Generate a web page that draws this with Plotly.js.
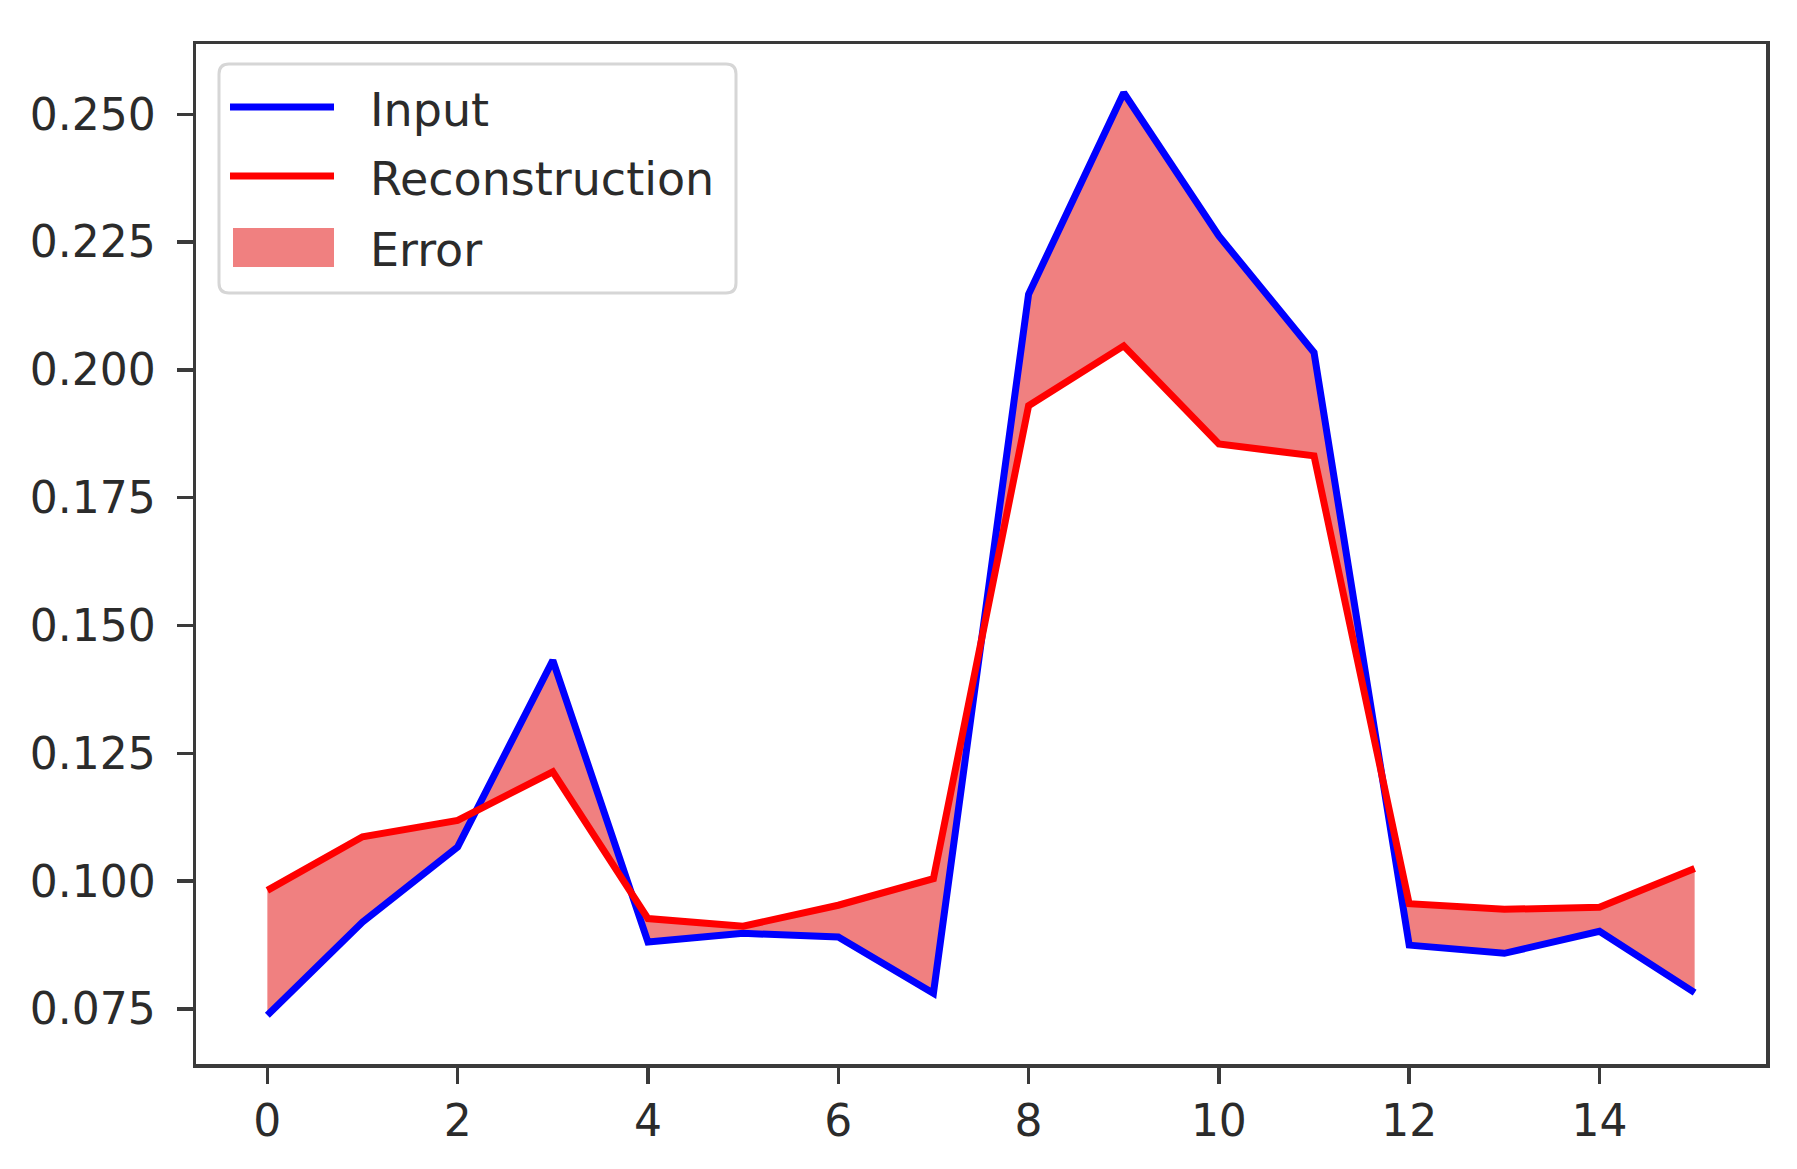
<!DOCTYPE html>
<html>
<head>
<meta charset="utf-8">
<script src="https://cdn.plot.ly/plotly-3.0.1.min.js"></script>
<style>
  html, body { margin: 0; padding: 0; background: #ffffff; }
  #chart { width: 1797px; height: 1169px; }
</style>
</head>
<body>
<div id="chart"></div>
<script>
// ---- data ----
const steps = [0, 1, 2, 3, 4, 5, 6, 7, 8, 9, 10, 11, 12, 13, 14, 15];
const inputValues = [0.0738, 0.0920, 0.1067, 0.1432, 0.0881, 0.0898, 0.0891, 0.0781,
                     0.2148, 0.2542, 0.2262, 0.2034, 0.0875, 0.0859, 0.0902, 0.0782];
const reconstructionValues = [0.0982, 0.1087, 0.1119, 0.1214, 0.0927, 0.0912, 0.0953, 0.1005,
                              0.1930, 0.2047, 0.1855, 0.1832, 0.0956, 0.0945, 0.0949, 0.1025];
const seriesNames = ["Input", "Reconstruction", "Error"];
const seriesColors = ["#0000ff", "#ff0000", "#F08080"];
const xTickValues = [0, 2, 4, 6, 8, 10, 12, 14];
const yTickValues = [0.075, 0.100, 0.125, 0.150, 0.175, 0.200, 0.225, 0.250];

const FONT = "DejaVu Sans, Liberation Sans, sans-serif";
const TEXT = "#2b2b2b";
const AXIS = "#3a3a3a";

const W = 1797, H = 1169;
const M = { l: 196, r: 31, t: 44, b: 105 };
const PW = W - M.l - M.r, PH = H - M.t - M.b;
// pixel -> paper coordinate helpers (for the legend box only)
const px = X => (X - M.l) / PW;
const py = Y => 1 - (Y - M.t) / PH;

const traces = [
  { // lower edge of the error band (hidden)
    x: steps, y: inputValues, type: "scatter", mode: "lines",
    line: { width: 0, color: "rgba(0,0,0,0)" },
    showlegend: false, hoverinfo: "skip"
  },
  { // error band between input and reconstruction
    x: steps, y: reconstructionValues, type: "scatter", mode: "lines",
    fill: "tonexty", fillcolor: seriesColors[2],
    line: { width: 0, color: "rgba(0,0,0,0)" },
    name: seriesNames[2], showlegend: false
  },
  {
    x: steps, y: inputValues, type: "scatter", mode: "lines",
    line: { color: seriesColors[0], width: 7 },
    name: seriesNames[0], showlegend: false
  },
  {
    x: steps, y: reconstructionValues, type: "scatter", mode: "lines",
    line: { color: seriesColors[1], width: 7 },
    name: seriesNames[1], showlegend: false
  }
];

// ---- legend (drawn as a box, handles and labels, like matplotlib's) ----
const box = { x0: 219, x1: 736, y0: 64, y1: 293, r: 10 };
function roundedRectPath(b) {
  const x0 = px(b.x0), x1 = px(b.x1), y0 = py(b.y0), y1 = py(b.y1);
  const rx = b.r / PW, ry = b.r / PH;
  return `M${x0 + rx},${y0} L${x1 - rx},${y0} Q${x1},${y0} ${x1},${y0 - ry} ` +
         `L${x1},${y1 + ry} Q${x1},${y1} ${x1 - rx},${y1} L${x0 + rx},${y1} ` +
         `Q${x0},${y1} ${x0},${y1 + ry} L${x0},${y0 - ry} Q${x0},${y0} ${x0 + rx},${y0} Z`;
}
const itemY = [107, 176, 247];
const handleX0 = 230, handleX1 = 334, labelX = 368;

const shapes = [
  { type: "path", xref: "paper", yref: "paper", path: roundedRectPath(box),
    fillcolor: "rgba(255,255,255,0.8)", line: { color: "#d6d6d6", width: 3 }, layer: "above" },
  { type: "line", xref: "paper", yref: "paper",
    x0: px(handleX0), x1: px(handleX1), y0: py(itemY[0]), y1: py(itemY[0]),
    line: { color: seriesColors[0], width: 7 }, layer: "above" },
  { type: "line", xref: "paper", yref: "paper",
    x0: px(handleX0), x1: px(handleX1), y0: py(itemY[1]), y1: py(itemY[1]),
    line: { color: seriesColors[1], width: 7 }, layer: "above" },
  { type: "rect", xref: "paper", yref: "paper",
    x0: px(handleX0 + 3), x1: px(handleX1), y0: py(itemY[2] - 19), y1: py(itemY[2] + 20),
    fillcolor: seriesColors[2], line: { width: 0 }, layer: "above" }
];

const annotations = seriesNames.map((name, i) => ({
  xref: "paper", yref: "paper", x: px(labelX), y: py(itemY[i] + 3),
  xanchor: "left", yanchor: "middle", showarrow: false, text: name,
  font: { family: FONT, size: 46, color: TEXT }
}));

const layout = {
  width: W, height: H,
  margin: { l: M.l, r: M.r, t: M.t, b: M.b, pad: 0 },
  paper_bgcolor: "#ffffff", plot_bgcolor: "#ffffff",
  font: { family: FONT, size: 44, color: TEXT },
  showlegend: false,
  shapes: shapes,
  annotations: annotations,
  xaxis: {
    range: [-0.75, 15.75], tickmode: "array", tickvals: xTickValues,
    ticktext: xTickValues.map(String),
    showgrid: false, zeroline: false,
    showline: true, linecolor: AXIS, linewidth: 3.5, mirror: true,
    ticks: "outside", ticklen: 16, tickwidth: 3.5, tickcolor: AXIS,
    ticklabelstandoff: 0,
    tickfont: { family: FONT, size: 44, color: TEXT }
  },
  yaxis: {
    range: [0.06425, 0.26374], tickmode: "array", tickvals: yTickValues,
    ticktext: yTickValues.map(v => v.toFixed(3)),
    showgrid: false, zeroline: false,
    showline: true, linecolor: AXIS, linewidth: 3.5, mirror: true,
    ticks: "outside", ticklen: 16, tickwidth: 3.5, tickcolor: AXIS,
    ticklabelstandoff: 12,
    tickfont: { family: FONT, size: 44, color: TEXT }
  }
};

Plotly.newPlot("chart", traces, layout, { displayModeBar: false, staticPlot: true });
</script>
</body>
</html>
